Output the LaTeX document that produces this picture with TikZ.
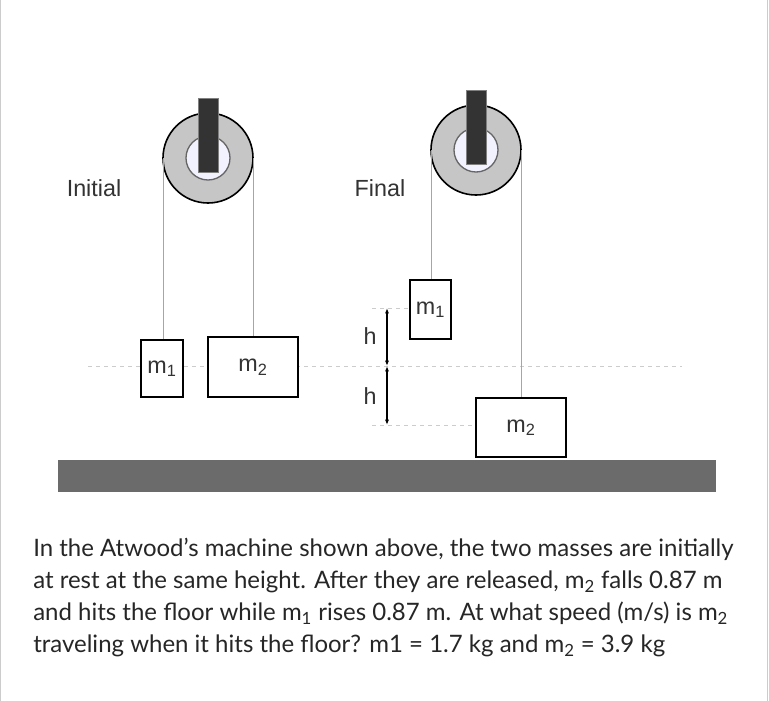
\documentclass[tikz,border=0pt]{standalone}
\usepackage{fontspec}
\setmainfont{Lato}
\setsansfont{Liberation Sans}
\usetikzlibrary{arrows.meta}
\begin{document}
\begin{tikzpicture}[x=0.75pt,y=-0.75pt,
  massbox/.style={draw=black,line width=1.6pt,fill=white},
  str/.style={draw=gray!70,line width=0.6pt},
  dline/.style={draw=gray!40,dashed,line width=0.6pt},
  lbl/.style={font=\sffamily\fontsize{17.5}{17.5}\selectfont,text=black!80},
  harr/.style={{Latex[length=4pt,width=3pt]}-{Latex[length=4pt,width=3pt]},line width=0.9pt},
  ptext/.style={font=\fontsize{18}{24}\selectfont,text=black!85,anchor=base west,inner sep=0pt}]
\useasboundingbox (0,0) rectangle (769,701);
\draw[gray!40] (0.5,0)--(0.5,701) (767.5,0)--(767.5,701);
% dashed reference lines
\draw[dline] (88,366)--(682,366);
\draw[dline] (372,308)--(410,308);
\draw[dline] (372,425)--(476,425);
% floor
\fill[black!58] (58,460) rectangle (716,492);
% pulleys
\foreach \cx/\cy/\n in {208/158/a,476/150/b}{
  \fill[gray!45,draw=black,line width=1.2pt] (\cx,\cy) circle (45);
  \fill[blue!5,draw=black!60,line width=1pt] (\cx,\cy) circle (22);
  \fill[black!80,draw=black!50] (\cx-10,\cy-60) rectangle (\cx+10,\cy+14);
}
% strings
\draw[str] (163,158)--(163,340) (253,158)--(253,337);
\draw[str] (431,150)--(431,280) (521,150)--(521,398);
% masses
\node[massbox,minimum width=42*0.75pt,minimum height=57*0.75pt,inner sep=0,lbl] (m1i) at (162,368.5) {m\textsubscript{1}};
\node[massbox,minimum width=90*0.75pt,minimum height=60*0.75pt,inner sep=0,lbl] (m2i) at (253,367) {m\textsubscript{2}};
\node[massbox,minimum width=41*0.75pt,minimum height=59*0.75pt,inner sep=0,lbl] (m1f) at (430.5,309.5) {m\textsubscript{1}};
\node[massbox,minimum width=90*0.75pt,minimum height=59*0.75pt,inner sep=0,lbl] (m2f) at (521,427.5) {m\textsubscript{2}};
% h arrows
\coordinate (ha) at (387,308); \coordinate (hb) at (387,366); \coordinate (hc) at (387,425);
\draw[harr] (ha)--(hb);
\draw[harr] (hb)--(hc);
\node[lbl] (h1) at (370,336) {h};
\node[lbl] (h2) at (370,396) {h};
\node[lbl] (init) at (94,188) {Initial};
\node[lbl] (fin) at (380,188) {Final};
% text
\node[ptext] (t1) at (33,556) {In the Atwood\symbol{39}s machine shown above, the two masses are initially};
\node[ptext] (t2) at (33,588) {at rest at the same height. After they are released, m\textsubscript{2} falls 0.87 m};
\node[ptext] (t3) at (33,620) {and hits the floor while m\textsubscript{1} rises 0.87 m. At what speed (m/s) is m\textsubscript{2}};
\node[ptext] (t4) at (33,652) {traveling when it hits the floor? m1 = 1.7 kg and m\textsubscript{2} = 3.9 kg};
\end{tikzpicture}
\end{document}
